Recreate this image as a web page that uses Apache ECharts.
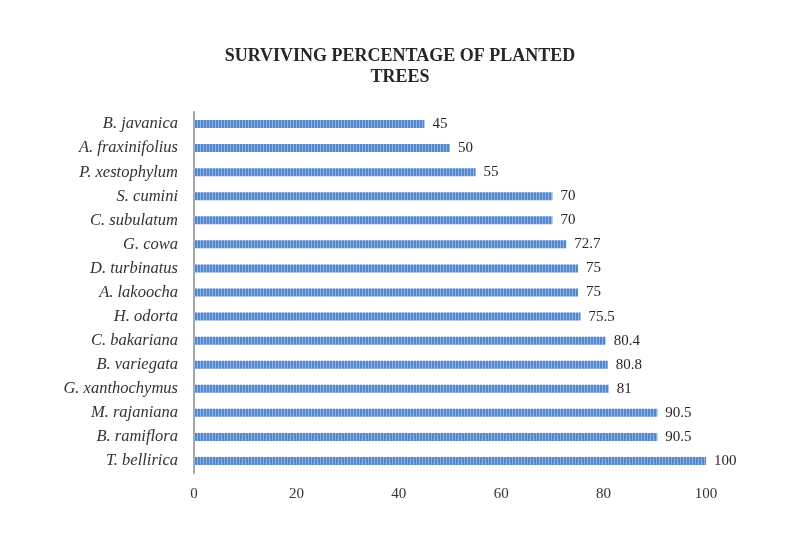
<!DOCTYPE html>
<html>
<head>
<meta charset="utf-8">
<script src="https://cdn.jsdelivr.net/npm/echarts@6/dist/echarts.min.js"></script>
<style>
  html, body { margin: 0; padding: 0; background: #fff; }
  #chart { width: 800px; height: 553px; }
</style>
</head>
<body>
<div id="chart"></div>
<script>
// species, listed top to bottom as in the figure
var species = [
    'B. javanica', 'A. fraxinifolius', 'P. xestophylum', 'S. cumini', 'C. subulatum',
    'G. cowa', 'D. turbinatus', 'A. lakoocha', 'H. odorta', 'C. bakariana',
    'B. variegata', 'G. xanthochymus', 'M. rajaniana', 'B. ramiflora', 'T. bellirica'
];
var survival = [45, 50, 55, 70, 70, 72.7, 75, 75, 75.5, 80.4, 80.8, 81, 90.5, 90.5, 100];
var xTicks = [0, 20, 40, 60, 80, 100];

// small striped fill like the original bars
function stripePattern() {
    var c = document.createElement('canvas');
    c.width = 3;
    c.height = 8;
    var ctx = c.getContext('2d');
    ctx.fillStyle = '#5587cc';
    ctx.fillRect(0, 0, 3, 8);
    ctx.fillStyle = '#93b3e2';
    ctx.fillRect(2, 0, 1, 8);
    return c;
}

var serif = '"Liberation Serif", "DejaVu Serif", serif';
var myChart = echarts.init(document.getElementById('chart'));

myChart.setOption({
    backgroundColor: '#fff',
    animation: false,
    title: {
        text: 'SURVIVING PERCENTAGE OF PLANTED\nTREES',
        left: 'center',
        top: 41,
        textStyle: {
            fontFamily: serif,
            fontSize: 18,
            fontWeight: 'bold',
            color: '#262626',
            lineHeight: 21
        }
    },
    grid: { left: 194, right: 94, top: 112, bottom: 80 },
    xAxis: {
        type: 'value',
        min: xTicks[0],
        max: xTicks[xTicks.length - 1],
        interval: 20,
        axisLine: { show: false },
        axisTick: { show: false },
        splitLine: { show: false },
        axisLabel: {
            margin: 14,
            fontFamily: serif,
            fontSize: 15,
            color: '#333'
        }
    },
    yAxis: {
        type: 'category',
        data: species,
        inverse: true,
        axisLine: { lineStyle: { color: '#a6a6a6', width: 2 } },
        axisTick: { show: false },
        axisLabel: {
            margin: 16,
            fontFamily: serif,
            fontStyle: 'italic',
            fontSize: 16.5,
            color: '#333'
        }
    },
    series: [{
        type: 'bar',
        data: survival,
        barWidth: 8,
        itemStyle: { color: { image: stripePattern(), repeat: 'repeat' } },
        label: {
            show: true,
            position: 'right',
            distance: 8,
            fontFamily: serif,
            fontSize: 15,
            color: '#262626'
        }
    }]
});
</script>
</body>
</html>
